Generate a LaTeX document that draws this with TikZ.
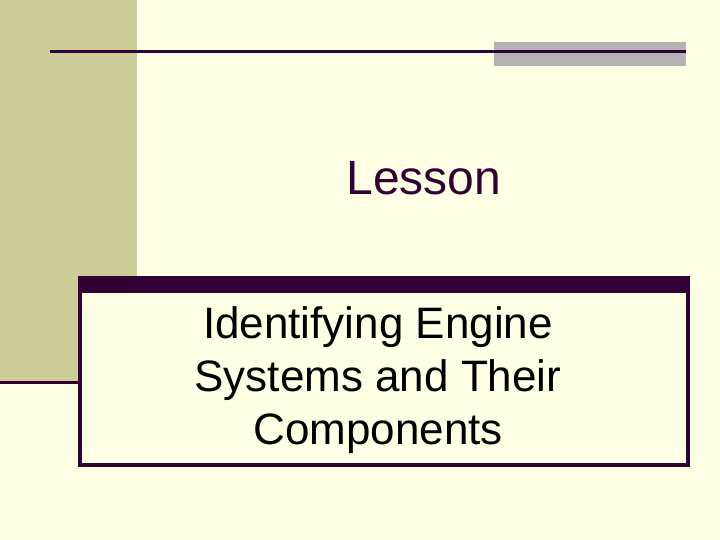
\documentclass[tikz,border=0pt]{standalone}
\usepackage{fontspec}
\setmainfont{Liberation Sans}
\definecolor{bg}{HTML}{FFFFE5}
\definecolor{strip}{HTML}{CCCC99}
\definecolor{dp}{HTML}{330033}
\definecolor{gbar}{HTML}{B2B2B2}
\begin{document}
\begin{tikzpicture}[x=1pt,y=-1pt]
\useasboundingbox (0,0) rectangle (720,540);
\fill[bg] (0,0) rectangle (720,540);
\fill[strip] (0,0) rectangle (137,383);
\fill[gbar] (494,42) rectangle (686,66);
\draw[dp,line width=3pt] (50,52) -- (686,52);
\draw[dp,line width=3pt] (0,382) -- (80,382);
\fill[dp] (78,276) rectangle (690,467);
\fill[bg] (82,293) rectangle (686,463);
\node[text=dp,font=\fontsize{48}{54}\selectfont] (title) at (424,178) {Lesson};
\node[align=center,font=\fontsize{44}{53}\selectfont] (body) at (378,380) {Identifying Engine\\Systems and Their\\Components};
\end{tikzpicture}
\end{document}
